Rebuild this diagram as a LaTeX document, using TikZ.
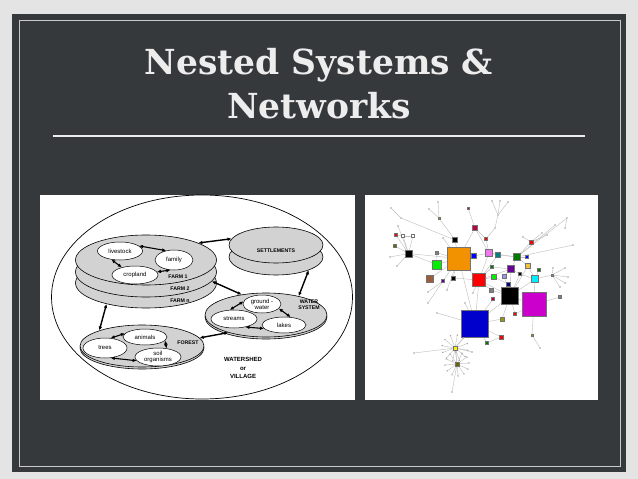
\documentclass[tikz,border=0pt]{standalone}
\usepackage{fontspec}
\setsansfont{Liberation Sans}
\newfontfamily\titlefont{DejaVu Serif}
\usetikzlibrary{shapes.geometric,arrows.meta}

\definecolor{slate}{HTML}{36393C}
\definecolor{chalk}{HTML}{EDEDED}
\definecolor{paper}{HTML}{E4E4E4}
\definecolor{discgray}{HTML}{D2D2D2}
\definecolor{wirecol}{HTML}{BDBDBD}
\definecolor{netorange}{HTML}{F39200}
\definecolor{netblue}{HTML}{0000CC}
\definecolor{netmag}{HTML}{CC00CC}
\definecolor{netlime}{HTML}{00EE00}
\definecolor{netbrown}{HTML}{9C5B3A}
\definecolor{netpink}{HTML}{EE77EE}
\definecolor{netteal}{HTML}{008080}
\definecolor{netgreen}{HTML}{007700}
\definecolor{netpurple}{HTML}{660099}
\definecolor{netgold}{HTML}{F0C040}
\definecolor{netcyan}{HTML}{00EEFF}
\definecolor{netlav}{HTML}{9999EE}
\definecolor{netnavy}{HTML}{000077}
\definecolor{netolive}{HTML}{999900}
\definecolor{netdolive}{HTML}{666600}

\pgfdeclarelayer{board}
\pgfdeclarelayer{wires}
\pgfsetlayers{board,wires,main}

\begin{document}
\begin{tikzpicture}[
    x=1pt, y=-1pt,
    >={Latex[length=4pt,width=3.6pt]},
    disc/.style={ellipse, draw, fill=discgray, line width=0.6pt, inner sep=0pt},
    part/.style={ellipse, draw, fill=white, line width=0.5pt, inner sep=0pt,
                 font=\sffamily\fontsize{6}{6}\selectfont, align=center},
    tag/.style={font=\sffamily\bfseries\fontsize{5.2}{5.6}\selectfont, align=center, inner sep=0pt},
    link/.style={<->, line width=1.1pt},
    biglink/.style={<->, line width=1.4pt},
    sq/.style={draw=black!55, line width=0.25pt, inner sep=0pt, minimum size=#1pt},
    leaf/.style={circle, fill=gray!75, inner sep=0pt, minimum size=1.6pt},
    wire/.style={draw=wirecol, line width=0.4pt}
]
  %--- slide ---
  \begin{pgfonlayer}{board}
    \fill[paper] (0,0) rectangle (638,479);
    \fill[slate] (12,14) rectangle (626,472);
    \draw[chalk!80!slate, line width=0.9pt] (19,20) rectangle (620,466);
    \fill[white] (40,195) rectangle (355,400);
    \fill[white] (365,195) rectangle (598,400);
  \end{pgfonlayer}

  \node[anchor=base, text=chalk, font=\titlefont\bfseries\fontsize{34.5}{40}\selectfont] (title1) at (319,74) {Nested Systems \&};
  \node[anchor=base, text=chalk, font=\titlefont\bfseries\fontsize{34.5}{40}\selectfont] (title2) at (319,118) {Networks};
  \draw[chalk, line width=1.2pt] (53,136) -- (585,136);

  %--- watershed ---
  \node[draw, ellipse, line width=0.7pt, minimum width=301pt, minimum height=204pt, inner sep=0pt] (shed) at (202,297) {};
  \node[tag, font=\sffamily\bfseries\fontsize{6}{8.5}\selectfont] (shedlbl) at (243,368) {WATERSHED\\or\\VILLAGE};

  %--- farms ---
  \node[disc, minimum width=141pt, minimum height=50pt] (farmN) at (146,283) {};
  \node[disc, minimum width=141pt, minimum height=50pt] (farmB) at (146,272) {};
  \node[disc, minimum width=141pt, minimum height=50pt] (farmA) at (146,260) {};
  \node[tag] (farm1) at (178,277) {FARM 1};
  \node[tag] (farm2) at (180,289) {FARM 2};
  \node[tag] (farmn) at (180,301) {FARM n};
  \node[part, minimum width=45pt, minimum height=18pt] (live) at (120,251) {livestock};
  \node[part, minimum width=38pt, minimum height=20pt] (fam)  at (174,260) {family};
  \node[part, minimum width=46pt, minimum height=18pt] (crop) at (135,275) {cropland};

  %--- settlements ---
  \node[disc, minimum width=94pt, minimum height=36pt] (setB) at (276,257) {};
  \node[disc, minimum width=94pt, minimum height=36pt] (setA) at (276,245) {};
  \node[tag] (setlbl) at (276,251) {SETTLEMENTS};

  %--- water system ---
  \node[disc, minimum width=122pt, minimum height=44pt] (waterB) at (266,317) {};
  \node[disc, minimum width=122pt, minimum height=44pt] (water)  at (266,315) {};
  \node[tag] (waterlbl) at (309,305) {WATER\\SYSTEM};
  \node[part, minimum width=38pt, minimum height=18pt] (gw)      at (262,304) {ground -\\water};
  \node[part, minimum width=46pt, minimum height=18pt] (streams) at (234,319) {streams};
  \node[part, minimum width=44pt, minimum height=16pt] (lakes)   at (284,325) {lakes};

  %--- forest ---
  \node[disc, minimum width=124pt, minimum height=42pt] (forestB) at (142,348) {};
  \node[disc, minimum width=124pt, minimum height=42pt] (forest)  at (142,346) {};
  \node[tag] (forestlbl) at (188,343) {FOREST};
  \node[part, minimum width=44pt, minimum height=16pt] (animals) at (145,337) {animals};
  \node[part, minimum width=44pt, minimum height=20pt] (trees)   at (105,348) {trees};
  \node[part, minimum width=46pt, minimum height=18pt] (soil)    at (158,357) {soil\\organisms};

  %--- links ---
  \draw[link] (live.15) -- (fam.130);
  \draw[link] (live.-135) -- (crop.150);
  \draw[link] (crop.8) -- (fam.-110);
  \draw[biglink] (farmA.18) -- (setA.172);
  \draw[biglink] (setB.-22) -- (water.30);
  \draw[biglink] (farmB.-8) -- (water.140);
  \draw[biglink] (farmN.-152) -- (forest.160);
  \draw[biglink] (water.-155) -- (forest.8);
  \draw[link] (streams.115) -- (gw.172);
  \draw[link] (gw.-15) -- (lakes.50);
  \draw[link] (streams.-35) -- (lakes.-170);
  \draw[link] (trees.60) -- (animals.170);
  \draw[link] (animals.-10) -- (soil.45);
  \draw[link] (trees.-60) -- (soil.-170);

  %--- network: squares ---
  \foreach \n/\x/\y/\s/\c in {
      o1/458.5/258.5/23/netorange, b1/475/324/27/netblue, m1/534/304.5/24/netmag,
      blk1/510/296/17/black, red1/479/280/13/red, lime/436.5/264.5/9/netlime,
      brown/430/278.5/7/netbrown, blk2/408.5/253.5/7/black, blk3/455/240/5/black,
      blk4/453/278/4/black, pink/489/253/7/netpink, blu2/474/256/5/blue,
      teal/498/255/5/netteal, dgreen/517/257/7/netgreen, purp/511/269/7/netpurple,
      gold/528/266/5/netgold, cyan/535/279/7/netcyan, grn2/494/277/5/netlime,
      lav/504/276/4/netlav, navy/508/284/4/netnavy, gry1/491/290/4/gray,
      purp2/475/228/5/purple, red2/486/239/3/red, red3/531/242/4/red,
      blu3/527/257/3/blue, olv1/502/319/4/netolive, red4/501/337/4/red,
      dgr2/487/343/3/netgreen, yel/455/348/4/yellow, olv2/457/364/4/netdolive,
      red5/515/314/3/red, gry2/560/297/3/gray, olv3/395/246/3/netdolive,
      red6/396/235/3/red, wht1/403/236/3/white, wht2/413/236/3/white,
      pur3/493/299/3/purple, gry3/437/253/3/gray, grn3/492/267/3/netgreen,
      blk5/520/274/3/black, pur4/443/281/3/netpurple, olv4/439/218/2/netolive,
      pur5/468/208/2/purple, grn4/539/270/3/netgreen, olv5/532/335/2/netolive,
      h1/552/275/2.5/gray}
    \node[sq=\s, fill=\c] (\n) at (\x,\y) {};

  %--- network: leaves ---
  \foreach \n/\x/\y in {
      l1/391/208, l2/401/218, l3/429/209, l4/438/202, l5/398/226, l6/390/257,
      l7/397/266, l8/443/238, l9/492/201, l10/500/201, l11/508/202, l12/498/215,
      l13/495/228, l14/567/218, l15/565/228, l16/555/225, l17/573/245, l18/547/235,
      l19/542/233, l20/565/268, l21/568/277, l22/565/283, l23/560/287, l24/553/268,
      l25/540/348, l26/414/353, l27/428/292, l28/428/303, l29/437/313, l30/452/392,
      l31/472/352, l32/447/290, l33/465/303, l34/473/293, l35/523/237}
    \node[leaf] (\n) at (\x,\y) {};
  \foreach \a in {10,40,...,340} {
    \path (yel) ++(\a:13) node[leaf] (ys\a) {};
    \path (olv2) ++(\a+15:12) node[leaf] (os\a) {};
  }

  %--- network: wires ---
  \begin{pgfonlayer}{wires}
    \foreach \a/\b in {
        o1/blk2, o1/lime, o1/brown, o1/blk3, o1/blk4, o1/red1, o1/blu2, o1/gry3,
        o1/b1, o1/pur4, o1/purp2, o1/l8, o1/l32,
        red1/b1, red1/pink, red1/blk1, red1/gry1, red1/grn2, red1/purp, red1/teal,
        red1/blk4, red1/l34,
        blk1/m1, blk1/cyan, blk1/purp, blk1/navy, blk1/lav, blk1/gry1, blk1/olv1,
        blk1/red5, blk1/b1, blk1/blk5, blk1/gold,
        m1/red5, m1/gry2, m1/cyan, m1/olv5, olv5/l25,
        b1/olv1, b1/red4, b1/dgr2, b1/yel, b1/pur3, b1/l33, b1/l29,
        blk2/olv3, blk2/red6, blk2/wht1, blk2/wht2, blk2/l6, blk2/l7, blk2/l5,
        blk2/lime, l1/l2, l2/blk3, wht1/wht2, red6/wht1,
        pink/teal, pink/purp2, pink/red2, pink/dgreen, pink/blu2,
        dgreen/teal, dgreen/purp, dgreen/gold, dgreen/red3, dgreen/blu3,
        dgreen/l14, dgreen/l16, red3/l19, red3/l18, red3/l35, l15/l14, l17/dgreen,
        cyan/gold, cyan/grn4, cyan/h1,
        h1/l20, h1/l21, h1/l22, h1/l23, h1/l24,
        purp2/pur5, purp2/red2, red2/l13, l13/l12, l12/l9, l12/l10, l12/l11,
        olv4/l3, olv4/l4, olv4/blk3,
        yel/olv2, yel/l26, yel/l31, olv2/l30,
        pur4/l27, pur4/l28, grn3/purp, grn3/red1, lav/purp, navy/grn2,
        blk5/purp, blk5/cyan, dgr2/red4, gry3/lime}
      \draw[wire] (\a) -- (\b);
    \foreach \a in {10,40,...,340} {
      \draw[wire] (yel) -- (ys\a);
      \draw[wire] (olv2) -- (os\a);
    }
  \end{pgfonlayer}
\end{tikzpicture}
\end{document}
